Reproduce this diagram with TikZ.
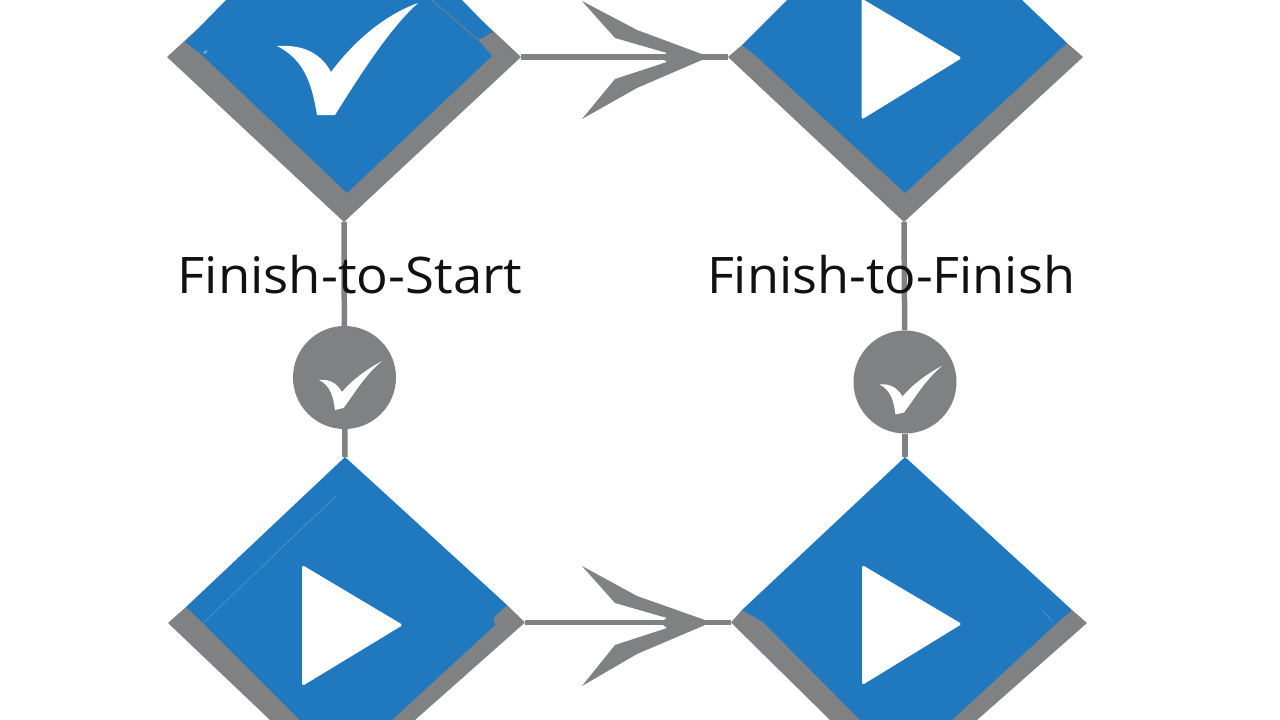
\documentclass[tikz,border=0pt]{standalone}
\usepackage{fontspec}
\setmainfont{Open Sans}
\definecolor{dgray}{HTML}{808182}
\definecolor{dblue}{HTML}{2079BE}
\definecolor{dtext}{HTML}{111111}
\definecolor{seam}{HTML}{5FA6DC}
\tikzset{
  band/.style={fill=dgray,draw=none},
  face/.style={fill=dblue,draw=none},
  glyph/.style={fill=white,draw=none},
  play/.style={fill=white,draw=white,line width=3pt,line join=round},
  link/.style={draw=dgray,line width=5.5pt},
  badge/.style={circle,fill=dgray,draw=none,minimum size=103pt,inner sep=0pt},
  cap text/.style={font=\fontsize{50.4}{50.4}\selectfont,text=dtext,inner sep=0pt,anchor=base},
  head/.style={fill=dgray,draw=none},
  seamline/.style={draw=seam,line width=0.6pt,opacity=0.7}
}
\newcommand{\smallcheck}[1]{%
  \fill[glyph,shift={(#1)}] (-25.5,2.5) .. controls (-14,1) and (-7,7) .. (-2.5,14.5)
    .. controls (8,2) and (22,-8) .. (37.5,-16.5)
    .. controls (20,-2) and (10,16) .. (-1,30.5)
    -- (-9.5,32.5) .. controls (-11,20) and (-14,8) .. cycle;}
\begin{document}
\begin{tikzpicture}[x=1pt,y=-1pt]
\useasboundingbox (0,0) rectangle (1280,720);
\clip (0,0) rectangle (1280,720);
\fill[white] (0,0) rectangle (1280,720);
% junction points
\coordinate (tlR) at (521,57);  \coordinate (trL) at (728,57);
\coordinate (blR) at (525,622.5); \coordinate (brL) at (731,622.5);
\coordinate (tlB) at (344,222); \coordinate (blT) at (345,457);
\coordinate (trB) at (904,222); \coordinate (brT) at (905,457);
% badges
\node[badge] (lbadge) at (344.5,377.5) {};
\node[badge] (rbadge) at (905,382) {};
% connectors
\draw[link] (tlB) -- (lbadge);
\draw[link] (lbadge) -- (blT);
\draw[link] (trB) -- (rbadge);
\draw[link] (rbadge) -- (brT);
\draw[link] (tlR) -- (trL);
\draw[link] (blR) -- (brL);
% arrowheads
\fill[head] (582,1) -- (637,30) -- (703,54.5) -- (703,59.5) -- (637,88) -- (582,119) -- (615,79) -- (667,62) -- (660,57) -- (667,53) -- (615,38) -- cycle;
\fill[head] (582,566) -- (637,596) -- (705,620) -- (705,625) -- (637,654) -- (582,686) -- (615,645) -- (667,628) -- (660,622.5) -- (667,618) -- (615,603) -- cycle;
% top-left diamond
\path[band] (167,57) -- (229,0) -- (460,0) -- (tlR) -- (tlB) -- cycle;
\path[face] (185,42) -- (226,0) -- (462,0) -- (493,32) -- (478,40) -- (492,56) -- (347,193) -- (202,55) -- cycle;
\draw[draw=dgray,line width=0.8pt] (432,0) -- (478,40);
\fill[seam,rotate around={40:(205.5,52)}] (205.5,52) ellipse (2.4pt and 1.4pt);
\path[glyph] (277,46) .. controls (305,44) and (322,55) .. (331,72)
  .. controls (355,40) and (385,15) .. (418,3)
  .. controls (390,28) and (360,75) .. (335,115)
  -- (317,115) .. controls (312,85) and (305,60) .. cycle;
% top-right diamond
\path[band] (trL) -- (742,45) -- (1067,43) -- (1083,57) -- (trB) -- cycle;
\path[face] (742,45) -- (787,0) -- (1022,0) -- (1067,43) -- (905,193) -- (757,57) -- cycle;
\path[play] (863,1) -- (959,58) -- (863,117) -- cycle;
% bottom-left diamond
\path[band] (168,623) -- (186,607) -- (507,605) -- (blR) -- (415,720) -- (270,720) -- cycle;
\path[face] (blT) -- (507,605) -- (493,618) -- (495,625) -- (392,720) -- (300,720) -- (203,623) -- (186,607) -- cycle;
\draw[seamline] (203,623) -- (337,495);
\path[play] (303.5,567.5) -- (400,625) -- (303.5,683.5) -- cycle;
% bottom-right diamond
\path[band] (brL) -- (742,610) -- (1072,610) -- (1087,623) -- (977,720) -- (830,720) -- cycle;
\path[face] (brT) -- (1072,610) -- (1057,623) -- (952,720) -- (860,720) -- (763,622) -- (742,610) -- cycle;
\draw[seamline] (1042,610) -- (1053,622);
\path[play] (863.5,567.5) -- (959,624) -- (863.5,682.5) -- cycle;
% badge checks
\smallcheck{344.5,377.5}
\smallcheck{905,382}
% labels
\node[cap text] (fs) at (350,293) {\scalebox{1.045}[1]{Finish-to-Start}};
\node[cap text] (ff) at (891,293) {\scalebox{1.035}[1]{Finish-to-Finish}};
\end{tikzpicture}
\end{document}
